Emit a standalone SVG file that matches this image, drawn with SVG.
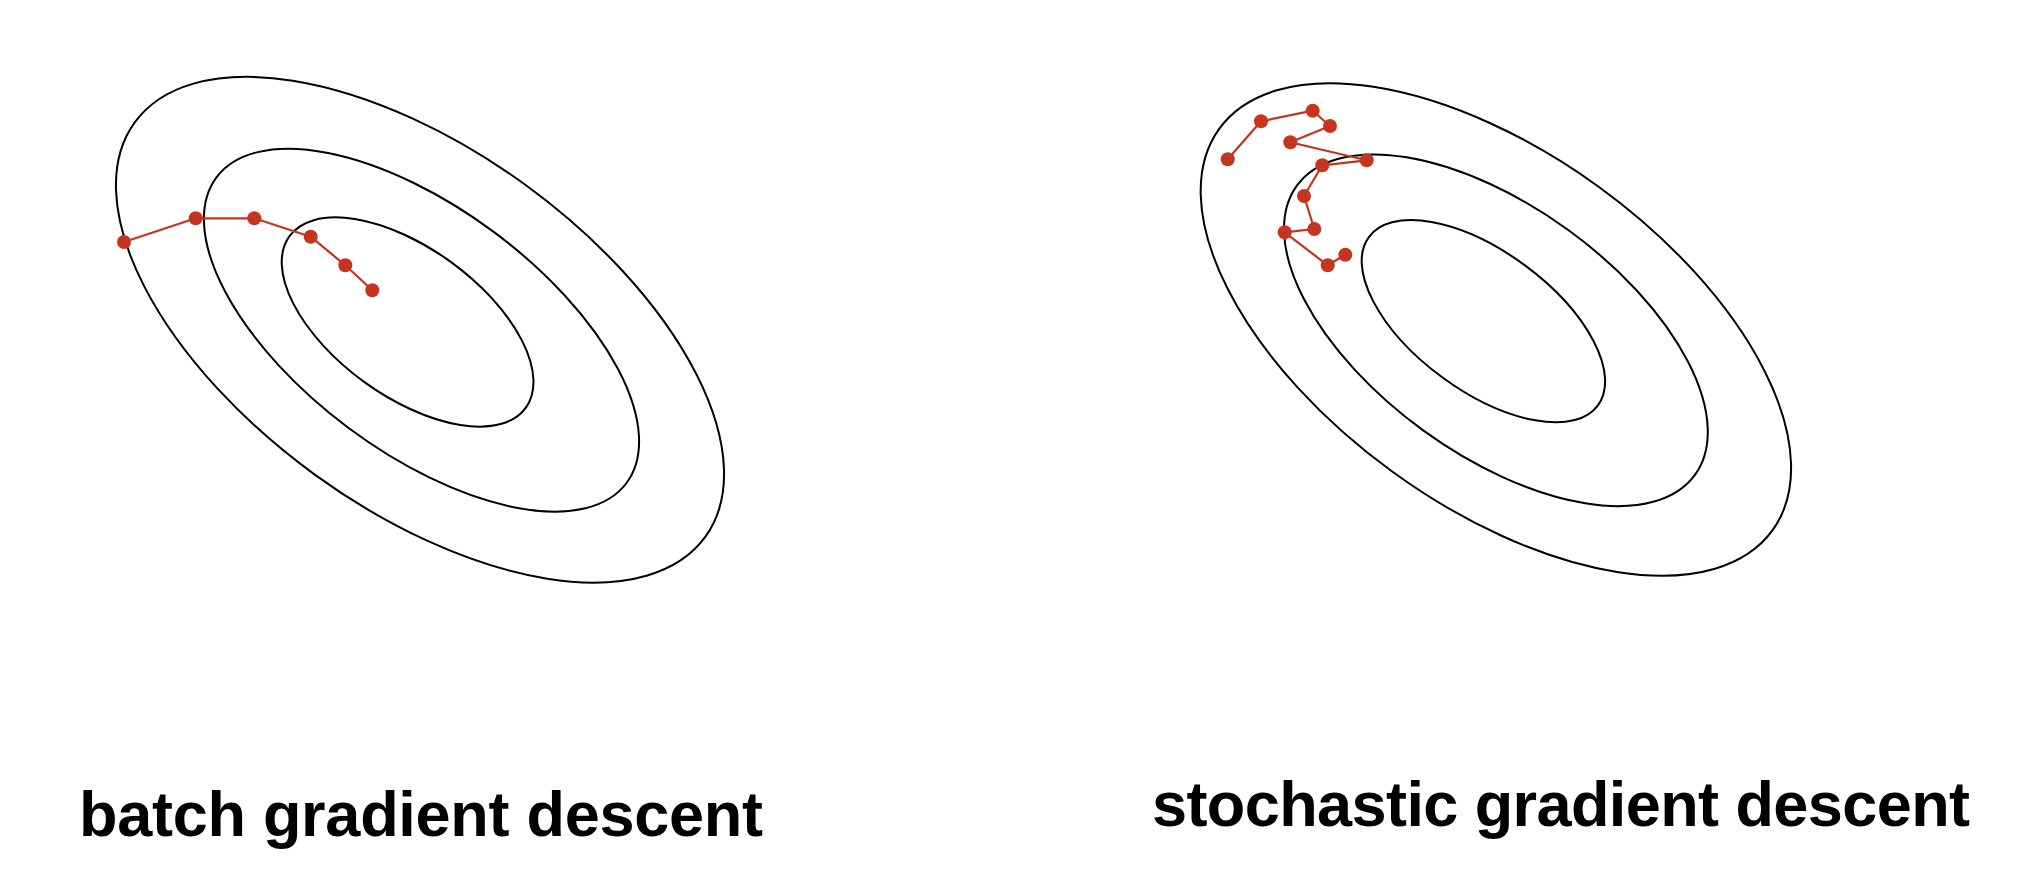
<svg xmlns="http://www.w3.org/2000/svg" width="2032" height="894" viewBox="0 0 2032 894">
<style>
.contour{fill:none;stroke:#000;stroke-width:2}
.path{fill:none;stroke:#c4341e;stroke-width:2.2;stroke-linejoin:round}
.dot{fill:#c4341e}
.label{font-family:"Liberation Sans",Arial,sans-serif;font-weight:bold;font-size:63px;fill:#000}
</style>
<rect width="2032" height="894" fill="#fff"/>
<g id="batch-contours">
<ellipse class="contour" cx="420" cy="329.7" rx="352.6" ry="179.1" transform="rotate(36 420 329.7)"/>
<ellipse class="contour" cx="421.5" cy="330.2" rx="255.7" ry="122" transform="rotate(36.7 421.5 330.2)"/>
<ellipse class="contour" cx="407.6" cy="322" rx="146" ry="74" transform="rotate(36 407.6 322)"/>
</g>
<g id="sgd-contours">
<ellipse class="contour" cx="1495.9" cy="329.5" rx="341.8" ry="175.9" transform="rotate(36 1495.9 329.5)"/>
<ellipse class="contour" cx="1495.9" cy="330.3" rx="246" ry="123.7" transform="rotate(36 1495.9 330.3)"/>
<ellipse class="contour" cx="1483.4" cy="321.2" rx="142.1" ry="69.6" transform="rotate(36.3 1483.4 321.2)"/>
</g>
<g id="connectors">
<polyline class="path" points="124,242 195.7,218.3 254.3,218.3 310.7,236.7 345.3,265.3 372.3,290.3"/>
<polyline class="path" points="1227.7,159.3 1261,121.3 1312.7,110.7 1330,126 1290.3,142.3 1366.7,160.3 1322.3,165.3 1304,196 1314.3,229 1284.7,232.3 1327.7,265.3 1345.3,254.7"/>
</g>
<g id="batch-steps">
<circle class="dot" cx="124" cy="242" r="7"/>
<circle class="dot" cx="195.7" cy="218.3" r="7"/>
<circle class="dot" cx="254.3" cy="218.3" r="7"/>
<circle class="dot" cx="310.7" cy="236.7" r="7"/>
<circle class="dot" cx="345.3" cy="265.3" r="7"/>
<circle class="dot" cx="372.3" cy="290.3" r="7"/>
</g>
<g id="sgd-steps">
<circle class="dot" cx="1227.7" cy="159.3" r="7"/>
<circle class="dot" cx="1261" cy="121.3" r="7"/>
<circle class="dot" cx="1312.7" cy="110.7" r="7"/>
<circle class="dot" cx="1330" cy="126" r="7"/>
<circle class="dot" cx="1290.3" cy="142.3" r="7"/>
<circle class="dot" cx="1366.7" cy="160.3" r="7"/>
<circle class="dot" cx="1322.3" cy="165.3" r="7"/>
<circle class="dot" cx="1304" cy="196" r="7"/>
<circle class="dot" cx="1314.3" cy="229" r="7"/>
<circle class="dot" cx="1284.7" cy="232.3" r="7"/>
<circle class="dot" cx="1327.7" cy="265.3" r="7"/>
<circle class="dot" cx="1345.3" cy="254.7" r="7"/>
</g>
<g id="labels">
<text class="label" x="79" y="836" textLength="684" lengthAdjust="spacing">batch gradient descent</text>
<text class="label" x="1152" y="826" textLength="818" lengthAdjust="spacing">stochastic gradient descent</text>
</g>
</svg>
